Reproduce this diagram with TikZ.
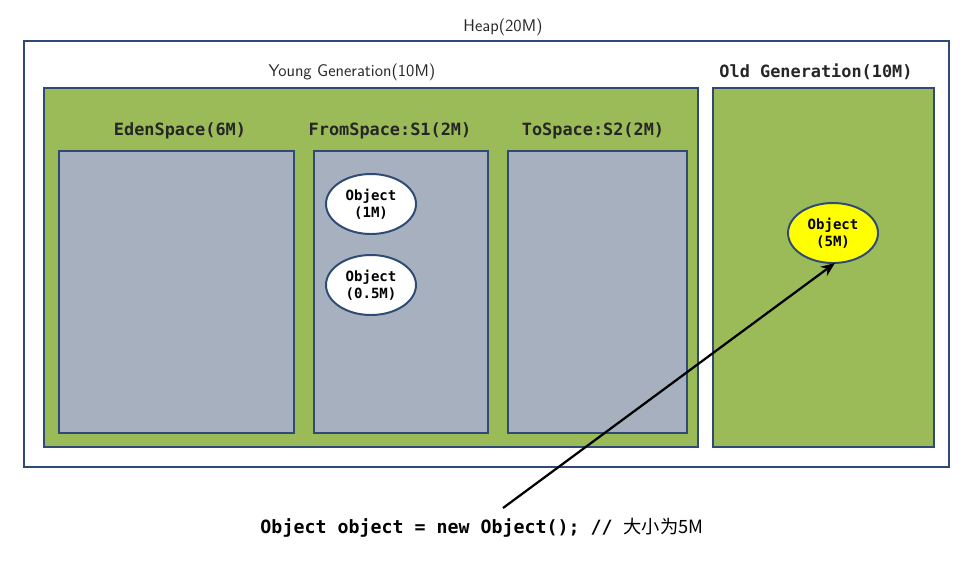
\documentclass[tikz,border=0pt]{standalone}
\usepackage{fontspec}
\setmainfont{DejaVu Sans}
\setmonofont{DejaVu Sans Mono}
\newfontfamily\cjk{Noto Sans CJK SC}
\usetikzlibrary{arrows.meta}
\definecolor{frameblue}{HTML}{2F4A75}
\definecolor{gengreen}{HTML}{9BBB59}
\definecolor{spacegrey}{HTML}{A7B0BF}
\definecolor{objyellow}{HTML}{FFFF00}
\begin{document}
\begin{tikzpicture}[x=0.025cm,y=-0.025cm]
    	\tikzstyle{heapbox} = [draw=frameblue, line width=1.4pt, fill=white]
    	\tikzstyle{genbox} = [draw=frameblue, line width=1.4pt, fill=gengreen]
    	\tikzstyle{spacebox} = [draw=frameblue, line width=1.4pt, fill=spacegrey]
    	\tikzstyle{title} = [font=\ttfamily\bfseries\fontsize{12}{14}\selectfont, text=black!85]
    	\tikzstyle{object} = [ellipse, draw=frameblue, line width=1.4pt, fill=white,
    		minimum width=90\pgflinewidth, minimum height=60\pgflinewidth,
    		font=\ttfamily\bfseries\fontsize{10}{12}\selectfont, align=center, inner sep=1pt]
    	\tikzstyle{object} = [draw=frameblue, line width=1.4pt, fill=white,
    		font=\ttfamily\bfseries\fontsize{10}{12}\selectfont, align=center]
        \useasboundingbox (0,0) rectangle (965,561);
        % heap
        \draw[heapbox] (24,41) rectangle (949,467);
        \node[title, font=\sffamily\fontsize{12}{14}\selectfont] (heap) at (503,27) {Heap(20M)};
        % generations
        \draw[genbox] (44,88) rectangle (698,447);
        \draw[genbox] (713,88) rectangle (934,447);
        \node[title, font=\sffamily\fontsize{12}{14}\selectfont] (young) at (352,72) {Young Generation(10M)};
        \node[title] (old) at (816,72) {Old Generation(10M)};
        % spaces
        \draw[spacebox] (59,151) rectangle (294,433);
        \draw[spacebox] (314,151) rectangle (488,433);
        \draw[spacebox] (508,151) rectangle (687,433);
        \node[title] (eden) at (180,131) {EdenSpace(6M)};
        \node[title] (from) at (390,131) {FromSpace:S1(2M)};
        \node[title] (to) at (593,131) {ToSpace:S2(2M)};
        % objects
        \draw[object] (371,204) ellipse (45 and 30);
        \node[object, draw=none, fill=none] (obj1) at (371,204) {Object\\(1M)};
        \draw[object] (371,285) ellipse (45 and 30);
        \node[object, draw=none, fill=none] (obj2) at (371,285) {Object\\(0.5M)};
        \draw[object, fill=objyellow] (833,233) ellipse (45 and 30);
        \node[object, draw=none, fill=none] (obj3) at (833,233) {Object\\(5M)};
        \coordinate (obj3s) at (835,263);
        % code line
        \node[font=\ttfamily\bfseries\fontsize{13}{15}\selectfont] (code) at (482,528)
        	{Object object = new Object(); // {\cjk\mdseries 大小为5M}};
        \coordinate (start) at (503,508);
        \draw[-{Stealth[length=10pt,width=8pt]}, line width=1.6pt] (start) -- (obj3s);
\end{tikzpicture}
\end{document}
